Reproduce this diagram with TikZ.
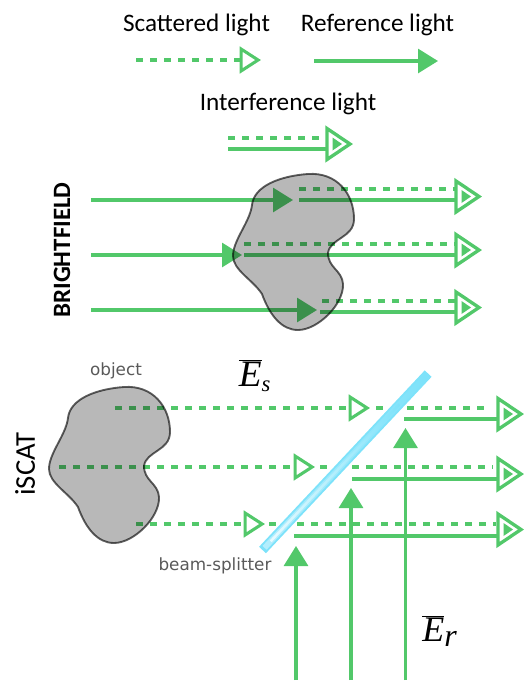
\documentclass[tikz,border=0pt]{standalone}
\usepackage{fontspec}
\setmainfont{Carlito}
\newfontfamily\dejafont{DejaVu Sans}
\newfontfamily\serfont{Liberation Serif}
\usetikzlibrary{arrows.meta}
\definecolor{lightgreen}{RGB}{82,200,106}
\definecolor{splitA}{RGB}{125,226,250}
\definecolor{splitB}{RGB}{180,238,253}
\definecolor{splitC}{RGB}{232,250,255}
\tikzset{
  x=0.75pt,y=-0.75pt,
  ray/.style={draw=lightgreen,line width=2.3pt},
  scat/.style={ray,dash pattern=on 5.6pt off 4.9pt},
  reftip/.style={-{Triangle[length=15pt,width=18pt]}},
  scattip/.style={-{Triangle[open,length=16pt,width=20pt,fill=white]}},
  blobstyle/.style={fill=black,fill opacity=.28,draw=black,draw opacity=.62,line width=1.4pt},
  label/.style={inner sep=0pt,font=\fontsize{18.9pt}{21pt}\selectfont},
  small/.style={inner sep=0pt,text=black!65,font=\dejafont\fontsize{12.6pt}{14pt}\selectfont},
  side/.style={inner sep=0pt,rotate=90,font=\bfseries\fontsize{18.7pt}{21pt}\selectfont},
  sidethin/.style={inner sep=0pt,rotate=90,font=\fontsize{21.5pt}{24pt}\selectfont},
  itip/.pic={
    \draw[lightgreen,line width=2.5pt,line join=miter,fill=white] (-12,-15.5) -- (11,0) -- (-12,15.5) -- cycle;
    \fill[lightgreen] (-6.5,-6.5) -- (3,0) -- (-6.5,6.5) -- cycle;
  },
  blobpic/.pic={
    \path[blobstyle] (308,174)
      .. controls (280,176) and (254,186) .. (252,205)
      .. controls (250,222) and (233,240) .. (233,256)
      .. controls (233,270) and (253,280) .. (262,294)
      .. controls (270,316) and (282,330) .. (298,330)
      .. controls (318,330) and (344,304) .. (343,284)
      .. controls (342,270) and (328,268) .. (328,253)
      .. controls (330,238) and (354,238) .. (354,219)
      .. controls (354,194) and (337,172) .. (308,174) -- cycle;
  }
}
\begin{document}
\begin{tikzpicture}
\useasboundingbox (0,0) rectangle (532,683);
% legend
\node[label] (tscat) at (196.5,25) {Scattered light};
\node[label] (tref) at (377.5,25) {Reference light};
\node[label] (tint) at (288,104) {Interference light};
\coordinate (la) at (136,60); \coordinate (lb) at (261,60);
\draw[scat,scattip] (la) -- (lb);
\coordinate (lc) at (314,61); \coordinate (ld) at (438,61);
\draw[ray,reftip] (lc) -- (ld);
\coordinate (ia) at (228,138); \coordinate (ib) at (329,138);
\coordinate (ic) at (228,149); \coordinate (id) at (329,149);
\coordinate (it) at (339,144);
\draw[scat] (ia) -- (ib);
\draw[ray] (ic) -- (id);
\pic at (it) {itip};
% brightfield
\node[side] (tbf) at (62,250) {BRIGHTFIELD};
\coordinate (b1a) at (91,200); \coordinate (b1b) at (293,200);
\coordinate (b2a) at (91,255); \coordinate (b2b) at (242,255);
\coordinate (b3a) at (91,310); \coordinate (b3b) at (317,310);
\draw[ray,reftip] (b1a) -- (b1b);
\draw[ray,reftip] (b2a) -- (b2b);
\draw[ray,reftip] (b3a) -- (b3b);
\coordinate (b1c) at (299,189); \coordinate (b1d) at (457,189);
\coordinate (b1e) at (299,200); \coordinate (b1f) at (457,200);
\coordinate (b1t) at (468,196.5);
\coordinate (b2c) at (244,244); \coordinate (b2d) at (457,244);
\coordinate (b2e) at (244,255); \coordinate (b2f) at (457,255);
\coordinate (b2t) at (468,250);
\coordinate (b3c) at (322,301); \coordinate (b3d) at (457,301);
\coordinate (b3e) at (320,312); \coordinate (b3f) at (457,312);
\coordinate (b3t) at (468,307.5);
\foreach \r in {1,2,3}{
  \draw[scat] (b\r c) -- (b\r d);
  \draw[ray] (b\r e) -- (b\r f);
  \pic at (b\r t) {itip};
}
\pic at (0,0) {blobpic};
% iSCAT
\node[sidethin] (tis) at (25,464) {iSCAT};
\node[small] (tobj) at (116,371) {object};
\node[small] (tbs) at (215,566) {beam-splitter};
\node[inner sep=0pt] (tes) at (255,376) {\fontsize{28pt}{30pt}\selectfont$\overline{\hbox{\serfont\itshape E}}_{\hbox{\serfont\itshape\fontsize{17pt}{18pt}\selectfont s}}$};
\node[inner sep=0pt] (ter) at (440,631) {\fontsize{27pt}{30pt}\selectfont$\overline{\hbox{\serfont\itshape E}}_{\hbox{\serfont\itshape\fontsize{24pt}{26pt}\selectfont r}}$};
% scattered, before the splitter
\coordinate (s1a) at (115,408); \coordinate (s1b) at (370,408);
\coordinate (s2a) at (59,467);  \coordinate (s2b) at (315,467);
\coordinate (s3a) at (136,524); \coordinate (s3b) at (265,524);
\draw[scat,scattip] (s1a) -- (s1b);
\draw[scat,scattip] (s2a) -- (s2b);
\draw[scat,scattip] (s3a) -- (s3b);
\coordinate (s1c) at (376,408); \coordinate (s1d) at (386,408);
\coordinate (s2c) at (320,467); \coordinate (s2d) at (330,467);
\coordinate (s3c) at (269,524); \coordinate (s3d) at (277,524);
\draw[scat] (s1c) -- (s1d);
\draw[scat] (s2c) -- (s2d);
\draw[scat] (s3c) -- (s3d);
% after the splitter
\coordinate (t1a) at (407,408); \coordinate (t1b) at (488,408);
\coordinate (t2a) at (352,467); \coordinate (t2b) at (493,467);
\coordinate (t3a) at (297,524); \coordinate (t3b) at (496,524);
\coordinate (u1a) at (404,419); \coordinate (u1b) at (498,419);
\coordinate (u2a) at (352,479); \coordinate (u2b) at (498,479);
\coordinate (u3a) at (294,536); \coordinate (u3b) at (498,536);
\coordinate (p1) at (510,414);
\coordinate (p2) at (510,474);
\coordinate (p3) at (510,529.5);
\foreach \r in {1,2,3}{
  \draw[scat] (t\r a) -- (t\r b);
  \draw[ray] (u\r a) -- (u\r b);
  \pic at (p\r) {itip};
}
% reference, from below
\coordinate (v1a) at (296,680); \coordinate (v1b) at (296,546);
\coordinate (v2a) at (351,680); \coordinate (v2b) at (351,488);
\coordinate (v3a) at (405.5,680); \coordinate (v3b) at (405.5,428);
\draw[ray,reftip] (v1a) -- (v1b);
\draw[ray,reftip] (v2a) -- (v2b);
\draw[ray,reftip] (v3a) -- (v3b);
% splitter
\begin{scope}[shift={(262.5,550)},rotate=46.8]
  \fill[splitA] (0,-4.7) rectangle (242,4.7);
  \shade[left color=splitB,right color=splitA] (3,-2.8) rectangle (236,2.8);
  \shade[left color=splitC,right color=splitA] (12,-1.3) rectangle (200,1.3);
\end{scope}
\pic at (-184,213) {blobpic};
\end{tikzpicture}
\end{document}
